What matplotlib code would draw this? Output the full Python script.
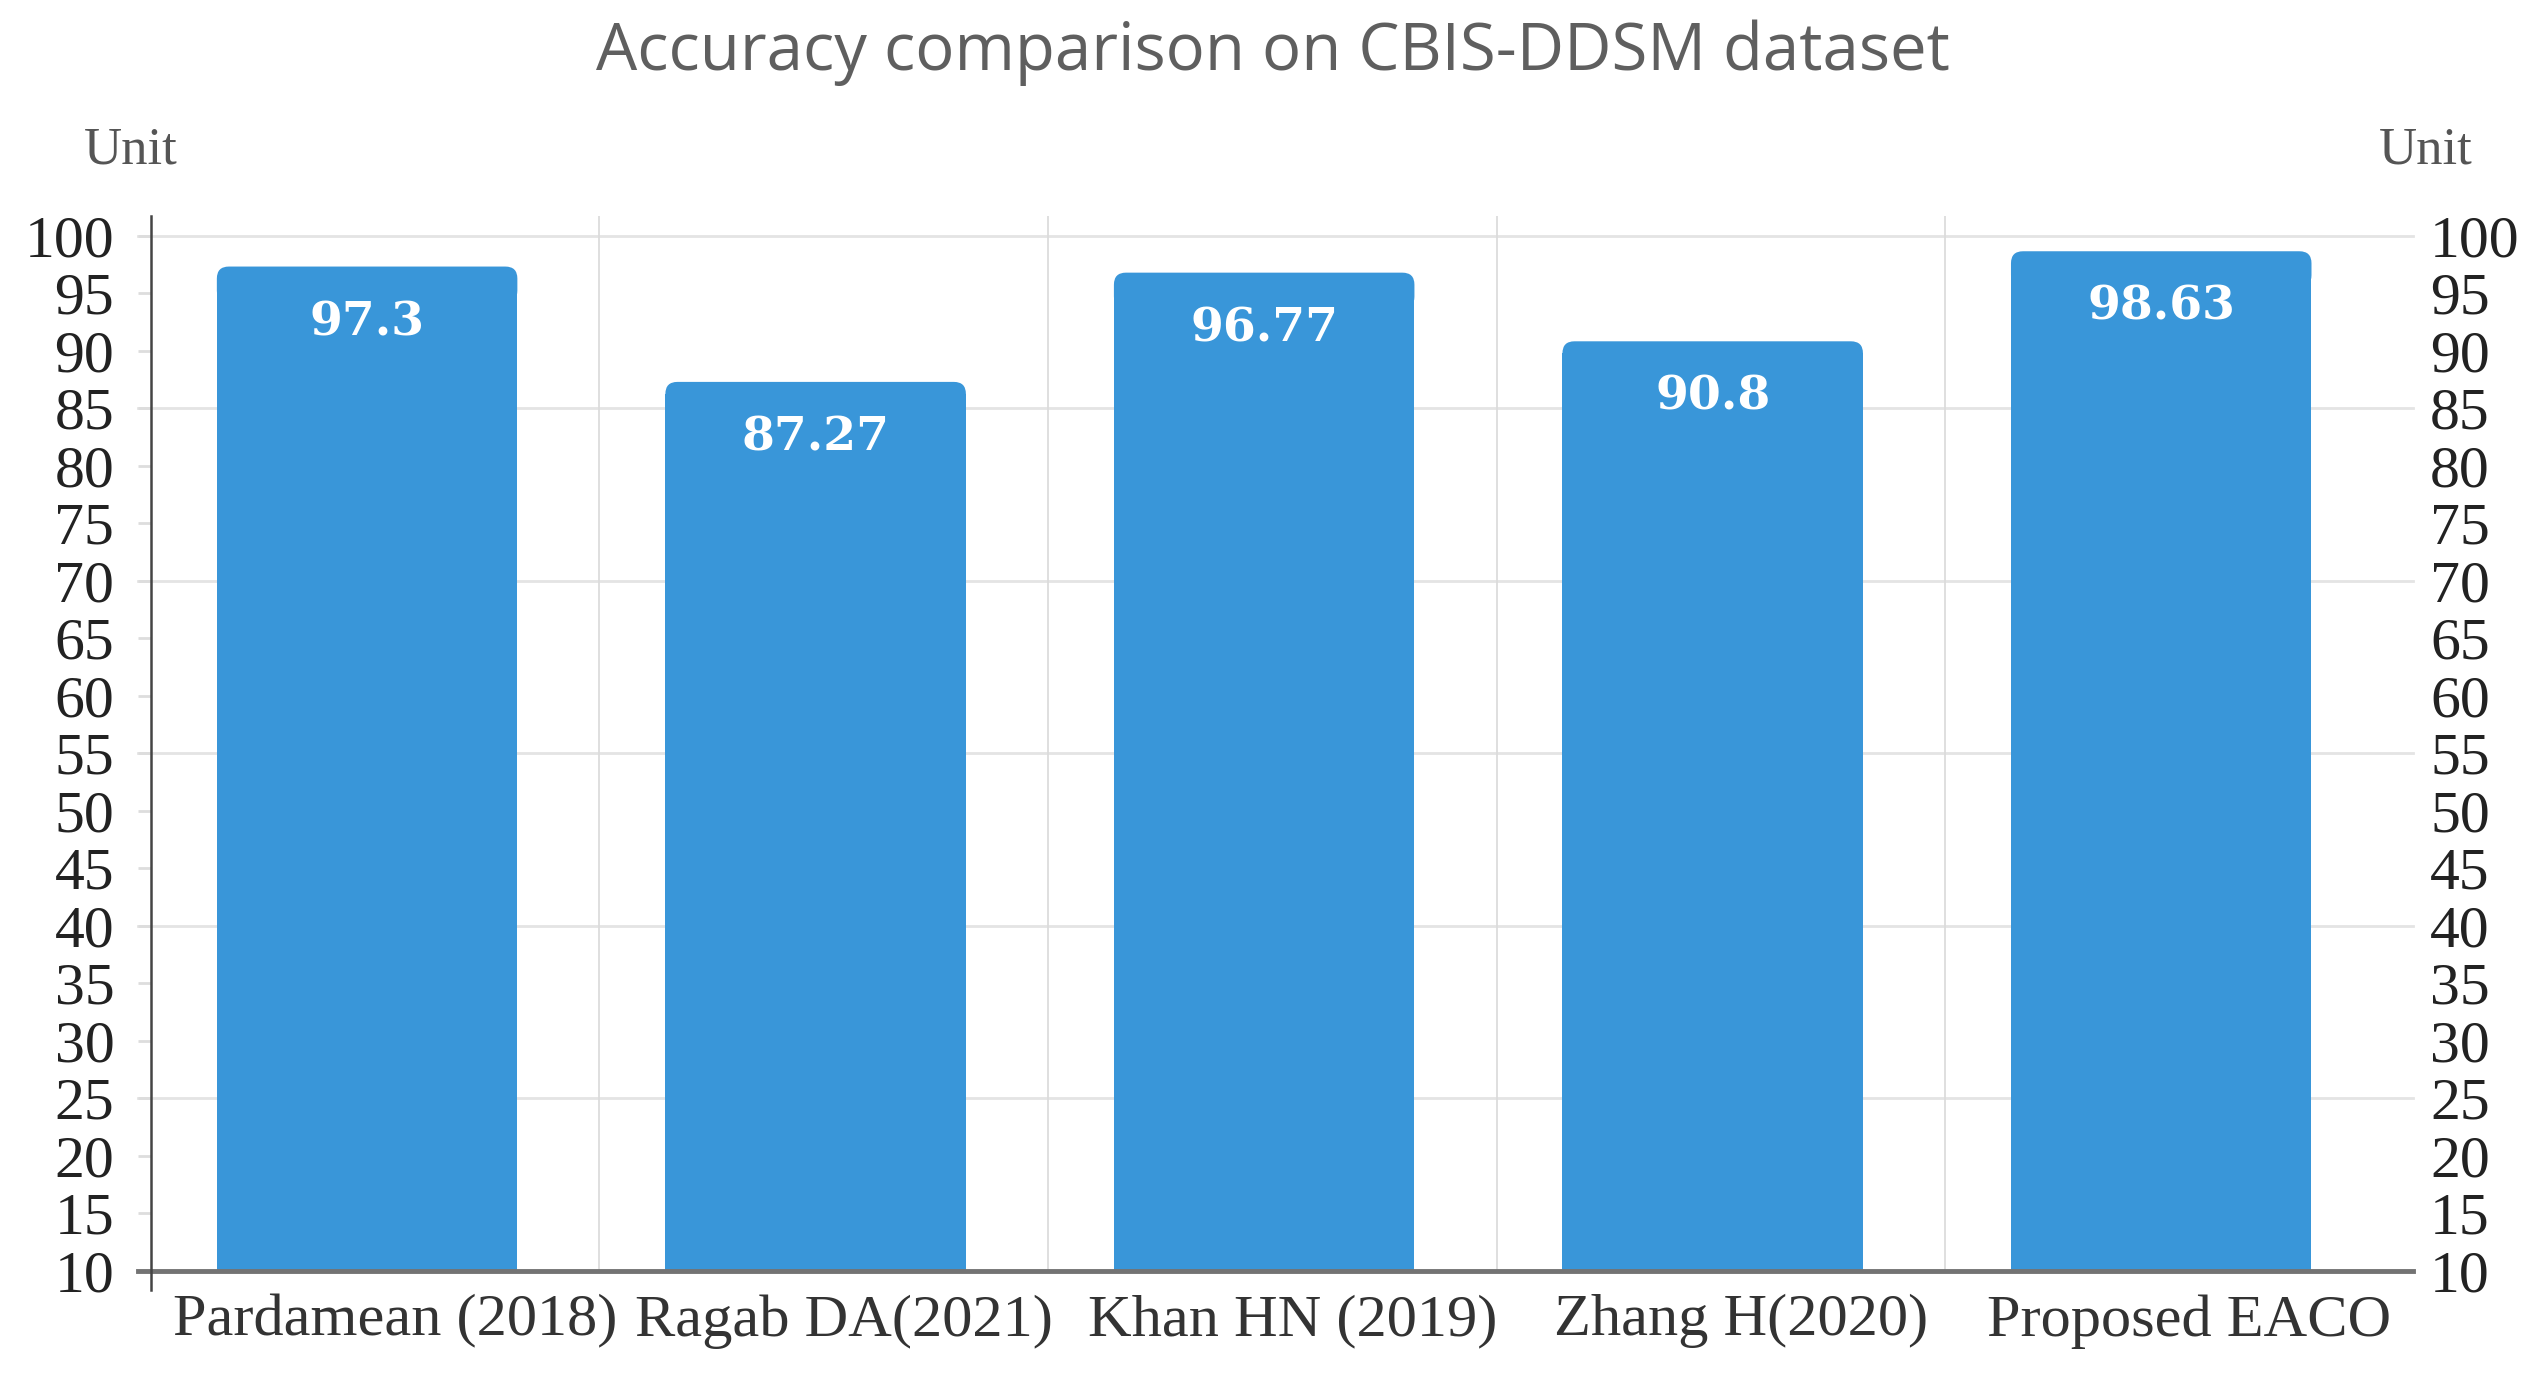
import numpy as np
import matplotlib
matplotlib.use('Agg')
import matplotlib.pyplot as plt
import matplotlib.transforms as mtransforms
from matplotlib.patches import FancyBboxPatch

plt.rcParams['font.family'] = ['Liberation Serif', 'DejaVu Serif']

title = 'Accuracy comparison on CBIS-DDSM dataset'
categories = ['Pardamean (2018)', 'Ragab DA(2021)', 'Khan HN (2019)',
              'Zhang H(2020)', 'Proposed EACO']
accuracy = [97.3, 87.27, 96.77, 90.8, 98.63]
yticks = list(range(10, 101, 5))
grid_major = list(range(10, 101, 15))
unit_label = 'Unit'

bar_color = '#3996d9'
y_base = 10

fig = plt.figure(figsize=(25.45, 13.79), dpi=100)
ax = fig.add_axes([0.0593, 0.0645, 0.8812, 0.7789])
x = np.arange(len(categories))
ax.set_xlim(-0.5, len(categories) - 0.5)
ax.set_ylim(8.3, 101.7)

# rounded tops: square lower part from ax.bar, rounded cap patch on top
px_x = 0.8812 * 2545 / len(categories)
px_y = 0.7789 * 1379 / 93.4
rx = 12 / px_x
ry = 12 / px_y
heights = np.array(accuracy) - y_base
bars = ax.bar(x - 0.018, heights - ry, bottom=y_base, width=0.67,
              color=bar_color, linewidth=0, zorder=2)
for b, v in zip(bars, accuracy):
    cap = FancyBboxPatch((b.get_x(), v - 3 * ry), b.get_width(), 3 * ry,
                         boxstyle='round,pad=0,rounding_size=%f' % rx,
                         mutation_aspect=ry / rx, facecolor=bar_color,
                         linewidth=0, zorder=2)
    ax.add_patch(cap)
    ax.annotate(str(v), (b.get_x() + b.get_width() / 2, v), xytext=(0, -40),
                textcoords='offset points', ha='center', va='center',
                color='white', fontsize=34, fontweight='bold',
                family='DejaVu Serif', zorder=3)

# grid
for g in grid_major:
    if g == y_base:
        ax.axhline(g, xmin=-0.0058, xmax=1.0087, clip_on=False,
                   color='#737373', lw=3.5, zorder=2.5)
    else:
        ax.axhline(g, xmin=-0.0058, xmax=1.0087, clip_on=False,
                   color='#e4e4e4', lw=2, zorder=0.5)
ax.vlines(x[:-1] + 0.5, y_base, 101.7, color='#dcdcdc', lw=1.3, zorder=0.5)

for s in ['top', 'right', 'bottom']:
    ax.spines[s].set_visible(False)
ax.spines['left'].set_color('#444444')
ax.spines['left'].set_linewidth(1.8)
ax.spines['left'].set_zorder(3)

ax.set_yticks(yticks)
ax.tick_params(axis='y', left=True, right=True, labelleft=True, labelright=True,
               direction='out', length=9.4, width=2, color='#dddddd', pad=17,
               labelsize=43, labelcolor='#222222')
for t in ax.yaxis.get_major_ticks():
    t.tick2line.set_visible(False)

ax.set_xticks(x, categories)
ax.tick_params(axis='x', length=0, pad=3, labelsize=43.5, labelcolor='#333333')
shift = mtransforms.ScaledTranslation(20 / 100, 0, fig.dpi_scale_trans)
for lab in ax.get_xticklabels():
    lab.set_transform(lab.get_transform() + shift)

fig.text(0.5, 1 - 70 / 1379, title, ha='center', va='baseline', fontsize=47,
         family='Open Sans', color='#5f5f5f')
fig.text(84 / 2545, 1 - 163 / 1379, unit_label, ha='left', va='baseline',
         fontsize=38, color='#555555')
fig.text(2379 / 2545, 1 - 163 / 1379, unit_label, ha='left', va='baseline',
         fontsize=38, color='#555555')

fig.savefig('out.png', dpi=100, facecolor='white')
